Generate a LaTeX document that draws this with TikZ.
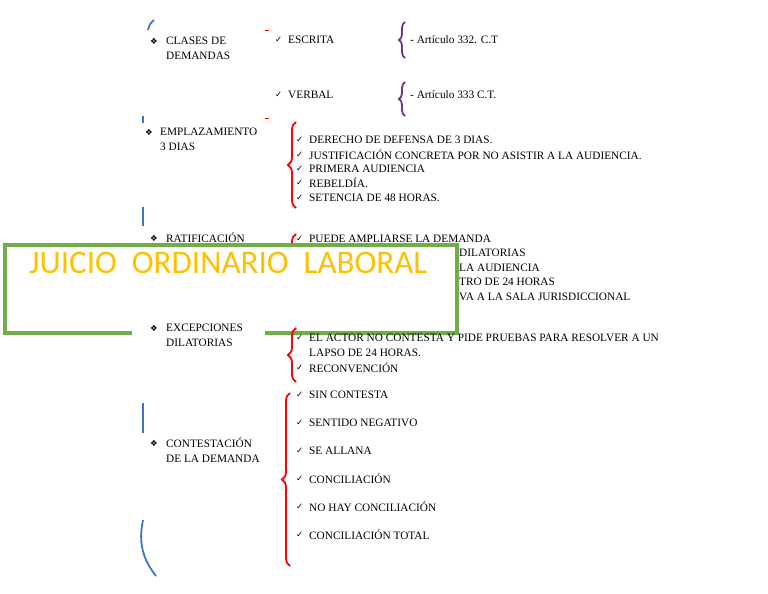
\documentclass[tikz,border=0pt]{standalone}
\usepackage{fontspec}
\setmainfont{Liberation Serif}
\newfontfamily\titlefont{Carlito}
\newfontfamily\symfont{DejaVu Sans}
\usetikzlibrary{decorations.pathreplacing}
\definecolor{gbox}{HTML}{70AD47}
\definecolor{ttl}{HTML}{FFC000}
\definecolor{pur}{HTML}{7030A0}
\definecolor{blu}{HTML}{4472C4}
\tikzset{
 t/.style={anchor=west,inner sep=0pt,font=\fontsize{11.3}{13}\selectfont},
 ck/.style={anchor=west,inner sep=0pt,font=\symfont\fontsize{8.5}{9}\selectfont},
 bl/.style={anchor=west,inner sep=0pt,font=\symfont\fontsize{8.5}{9}\selectfont},
 rb/.style={red,line width=1.8pt,decorate,decoration={brace,amplitude=8pt,mirror}},
 pb/.style={pur,line width=1.8pt,decorate,decoration={brace,amplitude=6pt,mirror}},
 bm/.style={blu,line width=1.8pt},
}
\newcommand{\chk}[3]{\node[ck] at (#1-13,#2) {✓};\node[t] at (#1,#2) {#3};}
\begin{document}
\begin{tikzpicture}[x=1pt,y=-1pt]
\useasboundingbox[fill=white] (0,0) rectangle (768,594);
% blue marks
\draw[bm] (148,30) to[bend left=20] (154,20);
\draw[bm] (143,116) -- (143,123);
\draw[bm] (143,207) -- (143,226);
\draw[bm] (143,403) -- (143,433);
\draw[bm] (143,520) to[bend right=25] (156,576);
\draw[red,line width=1pt] (265,31) -- (269,31);
\draw[red,line width=1pt] (265,118) -- (269,118);
% clases
\node[bl] at (150,41) {❖};
\node[t] (cl) at (166,41) {CLASES DE};
\node[t] at (166,56) {DEMANDAS};
\chk{288}{40}{ESCRITA}
\chk{288}{95}{VERBAL}
\coordinate (p1a) at (405,22); \coordinate (p1b) at (405,58);
\draw[pb] (p1a) -- (p1b);
\node[t] at (410,40) {- Artículo 332. C.T};
\coordinate (p2a) at (405,82); \coordinate (p2b) at (405,116);
\draw[pb] (p2a) -- (p2b);
\node[t] at (410,95) {- Artículo 333 C.T.};
% emplazamiento
\node[bl] at (145,132) {❖};
\node[t] at (160,132) {EMPLAZAMIENTO};
\node[t] at (160,147) {3 DIAS};
\coordinate (r1a) at (296,122); \coordinate (r1b) at (296,208);
\draw[rb] (r1a) -- (r1b);
\chk{309}{140}{DERECHO DE DEFENSA DE 3 DIAS.}
\chk{309}{155}{JUSTIFICACIÓN CONCRETA POR NO ASISTIR A LA AUDIENCIA.}
\chk{309}{169}{PRIMERA AUDIENCIA}
\chk{309}{183}{REBELDÍA.}
\chk{309}{198}{SETENCIA DE 48 HORAS.}
% ratificacion
\node[bl] at (150,238) {❖};
\node[t] at (166,238) {RATIFICACIÓN};
\coordinate (r2a) at (296,234); \coordinate (r2b) at (296,320);
\draw[rb] (r2a) -- (r2b);
\chk{309}{239}{PUEDE AMPLIARSE LA DEMANDA}
\node[t] at (459,253) {DILATORIAS};
\node[t] at (459,268) {LA AUDIENCIA};
\node[t] at (459,282) {TRO DE 24 HORAS};
\node[t] at (459,297) {VA A LA SALA JURISDICCIONAL};
% box
\node[draw=gbox,fill=white,line width=3.5pt,minimum width=452pt,minimum height=88pt,anchor=north west,inner sep=0pt] (box) at (3,243) {};
\node[anchor=west,inner sep=0pt,text=ttl,font=\titlefont\fontsize{33}{35}\selectfont] (title) at (29,263) {JUICIO\ \ ORDINARIO\ \ LABORAL};
% excepciones
\fill[white] (132,322) rectangle (265,350);
\node[bl] at (150,328) {❖};
\node[t] at (166,328) {EXCEPCIONES};
\node[t] at (166,343) {DILATORIAS};
\coordinate (r3a) at (296,328); \coordinate (r3b) at (296,382);
\draw[rb] (r3a) -- (r3b);
\chk{309}{338}{EL ACTOR NO CONTESTA Y PIDE PRUEBAS PARA RESOLVER A UN}
\node[t] at (309,353) {LAPSO DE 24 HORAS.};
\chk{309}{368}{RECONVENCIÓN}
% contestacion
\node[bl] at (150,443) {❖};
\node[t] at (166,443) {CONTESTACIÓN};
\node[t] at (166,459) {DE LA DEMANDA};
\coordinate (r4a) at (290,393); \coordinate (r4b) at (290,566);
\draw[rb] (r4a) -- (r4b);
\chk{309}{395}{SIN CONTESTA}
\chk{309}{423}{SENTIDO NEGATIVO}
\chk{309}{451}{SE ALLANA}
\chk{309}{479}{CONCILIACIÓN}
\chk{309}{507}{NO HAY CONCILIACIÓN}
\chk{309}{535}{CONCILIACIÓN TOTAL}
\end{tikzpicture}
\end{document}
